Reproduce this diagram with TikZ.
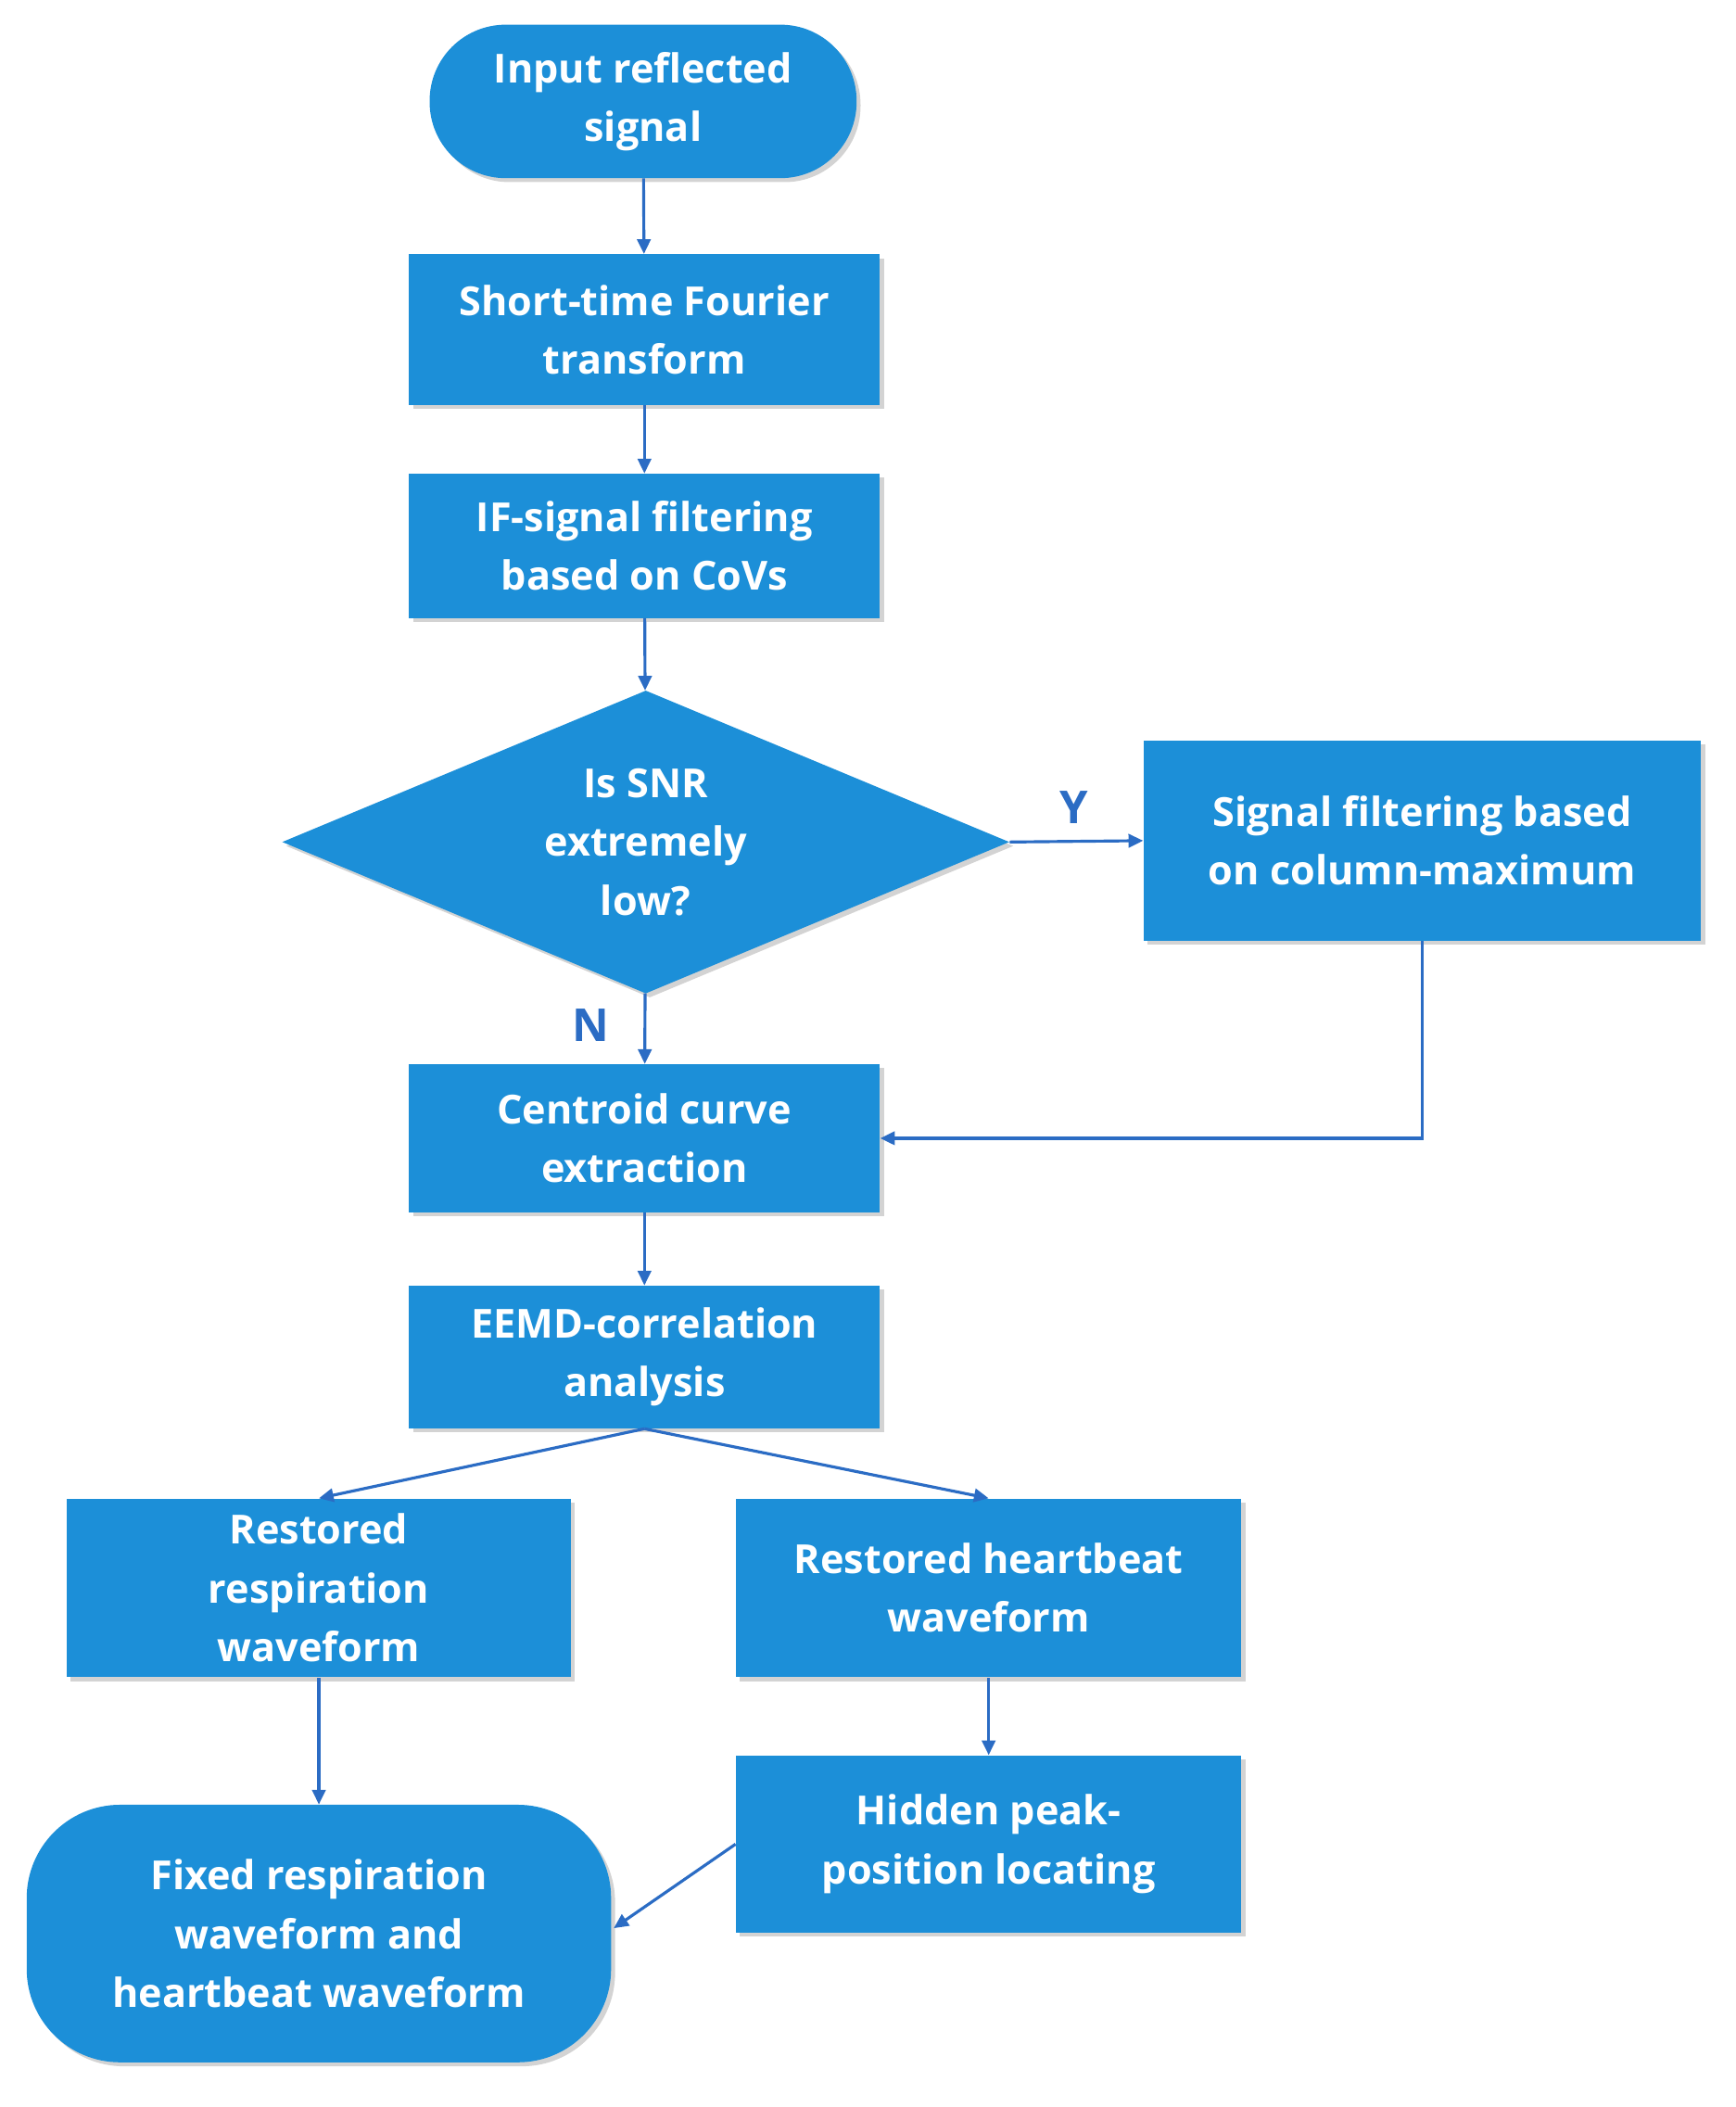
\documentclass[tikz,border=0pt]{standalone}
\usepackage{fontspec}
\setmainfont{Open Sans}
\usetikzlibrary{shapes.geometric,arrows.meta,shadows}
\definecolor{bfill}{HTML}{1C8FD8}
\definecolor{bline}{HTML}{2B6CC4}
\begin{document}
\begin{tikzpicture}[x=1pt,y=-1pt,
 box/.style={draw=none,fill=bfill,text=white,font=\bfseries\fontsize{30}{44}\selectfont,align=center,inner sep=0pt,drop shadow={shadow xshift=3pt,shadow yshift=-3pt,opacity=0.35}},
 arr/.style={draw=bline,line width=2.2pt,-{Triangle[length=11pt,width=10pt]}},
 lab/.style={text=bline,font=\bfseries\fontsize{34}{40}\selectfont}]
\useasboundingbox (0,0) rectangle (1301,1579);
\node[box,rounded corners=57pt,minimum width=320pt,minimum height=115pt] (in) at (482,76) {Input reflected\\signal};
\node[box,minimum width=353pt,minimum height=113pt] (st) at (483,247) {Short-time Fourier\\transform};
\node[box,minimum width=353pt,minimum height=108pt] (if) at (483,409) {IF-signal filtering\\based on CoVs};
\node[box,diamond,aspect=2.4,minimum width=545pt,minimum height=227pt] (d) at (484,631) {Is SNR\\extremely\\low?};
\node[box,minimum width=418pt,minimum height=150pt] (sf) at (1066,630) {Signal filtering based\\on column-maximum};
\node[box,minimum width=353pt,minimum height=111pt] (cc) at (483,853) {Centroid curve\\extraction};
\node[box,minimum width=353pt,minimum height=107pt] (ee) at (483,1017) {EEMD-correlation\\analysis};
\node[box,minimum width=378pt,minimum height=134pt] (rr) at (239,1190) {Restored\\respiration\\waveform};
\node[box,minimum width=379pt,minimum height=134pt] (rh) at (741,1190) {Restored heartbeat\\waveform};
\node[box,minimum width=379pt,minimum height=133pt] (hp) at (741,1382) {Hidden peak-\\position locating};
\node[box,rounded corners=70pt,minimum width=438pt,minimum height=193pt] (fx) at (239,1449) {Fixed respiration\\waveform and\\heartbeat waveform};
\draw[arr] (in) -- (st);
\draw[arr] (st) -- (if);
\draw[arr] (if) -- (d);
\draw[arr] (d) -- (cc);
\draw[arr] (d.east) -- (sf.west);
\draw[arr] (sf.south) |- (cc.east);
\draw[arr] (cc) -- (ee);
\draw[arr] (ee.south) -- (rr.north);
\draw[arr] (ee.south) -- (rh.north);
\draw[arr] (rr) -- (fx);
\draw[arr] (rh) -- (hp);
\coordinate (fxe) at (460,1445);
\draw[arr] (hp.west) -- (fxe);
\node[lab] (y) at (805,605) {Y};
\node[lab] (n) at (443,768) {N};
\end{tikzpicture}
\end{document}
